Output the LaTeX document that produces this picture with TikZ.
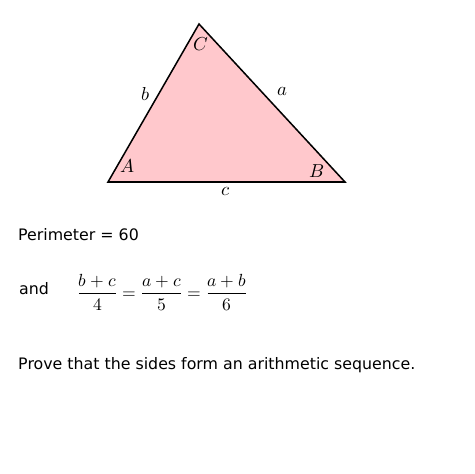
\documentclass[tikz,border=0pt]{standalone}
\usepackage{amsmath}
\usepackage{fontspec}
\setmainfont{DejaVu Sans}
\usepackage{unicode-math}
\setmathfont{Latin Modern Math}
\usepackage{xcolor}
\usetikzlibrary{calc,positioning}
\definecolor{trifill}{RGB}{255,200,204}
\tikzset{
	vertlabel/.style={font=\fontsize{16}{19}\selectfont, inner sep=0pt},
	txt/.style={font=\fontsize{13.5}{16}\selectfont, anchor=base west, inner sep=0pt}
}

\begin{document}
\begin{tikzpicture}[x=0.03cm,y=-0.03cm]
		\useasboundingbox (0,0) rectangle (474,474);
		% triangle
		\coordinate (A) at (108,182);
		\coordinate (B) at (345,182);
		\coordinate (C) at (199,24);
		\filldraw[fill=trifill, draw=black, line width=1.3pt, line join=miter] (A) -- (B) -- (C) -- cycle;
		\node[vertlabel] (lC) at (201,44) {$ C $};
		\node[vertlabel] (lA) at (128,166) {$ A $};
		\node[vertlabel] (lB) at (317,171) {$ B $};
		\node[vertlabel] (lb) at (146,94) {$ b $};
		\node[vertlabel] (la) at (282,91) {$ a $};
		\node[vertlabel] (lc) at (226,191) {$ c $};
		% text
		\node[txt] (per) at (18,240) {Perimeter = 60};
		\node[txt] (and) at (19,294) {and};
		\node[anchor=base, inner sep=0pt, font=\fontsize{15}{18}\selectfont] (frac) at (162.5,298)
			{$ \dfrac{b+c}{4}=\dfrac{a+c}{5}=\dfrac{a+b}{6} $};
		\node[txt] (prove) at (18,369) {Prove that the sides form an arithmetic sequence.};
\end{tikzpicture}
\end{document}
